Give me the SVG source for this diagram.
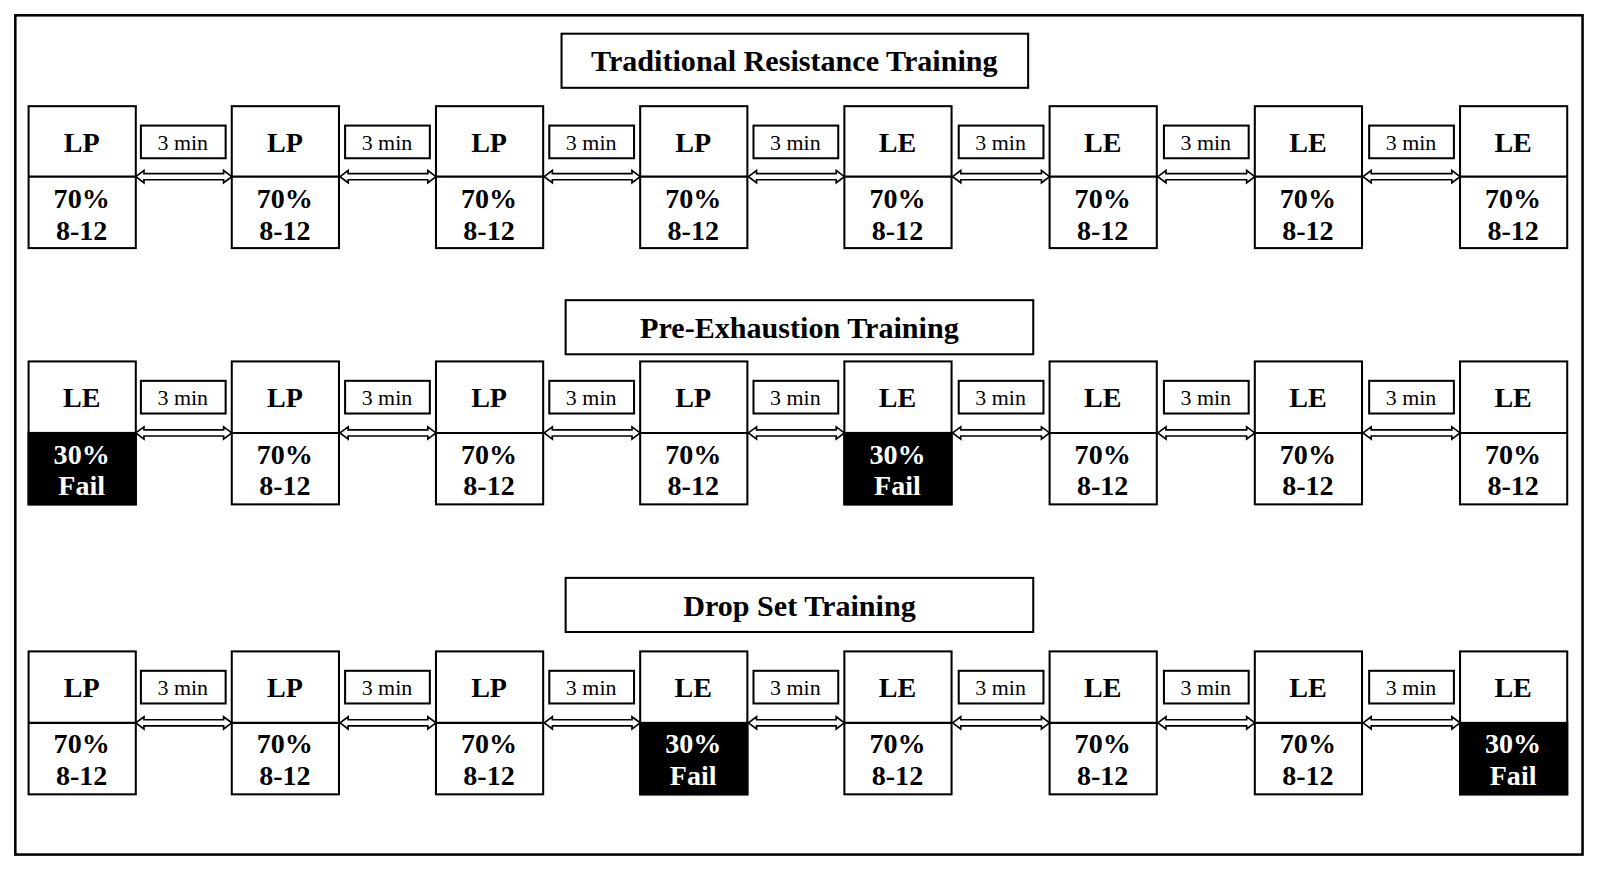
<svg xmlns="http://www.w3.org/2000/svg" width="1600" height="870" viewBox="0 0 1600 870">
<style>
.b{fill:#fff;stroke:#000;stroke-width:2}
.f{fill:#000;stroke:#000;stroke-width:2}
.t{font-family:"Liberation Serif",serif;font-weight:bold;font-size:27.5px;text-anchor:middle}
.w{fill:#fff}
.h{font-family:"Liberation Serif",serif;font-weight:bold;font-size:29.5px;text-anchor:middle}
.r{font-family:"Liberation Serif",serif;font-size:21.5px;text-anchor:middle}
.a{fill:#fff;stroke:#000;stroke-width:1.6}
</style>
<rect width="1600" height="870" fill="#fff"/>
<g transform="scale(1.021)">
<rect x="15" y="15" width="1535" height="822" fill="none" stroke="#000" stroke-width="2.5"/>
<g id="titles">
<rect class="b" x="550" y="33" width="457" height="53"/><text class="h" x="778" y="70">Traditional Resistance Training</text>
<rect class="b" x="554" y="294" width="458" height="53"/><text class="h" x="783" y="331">Pre-Exhaustion Training</text>
<rect class="b" x="554" y="566" width="458" height="53"/><text class="h" x="783" y="603">Drop Set Training</text>
</g>
<g id="connectors">
<g>
<rect class="b" x="138" y="123" width="83" height="32"/><text class="r" x="179" y="147">3 min</text>
<rect class="b" x="338" y="123" width="83" height="32"/><text class="r" x="379" y="147">3 min</text>
<rect class="b" x="538" y="123" width="83" height="32"/><text class="r" x="579" y="147">3 min</text>
<rect class="b" x="738" y="123" width="83" height="32"/><text class="r" x="779" y="147">3 min</text>
<rect class="b" x="939" y="123" width="83" height="32"/><text class="r" x="980" y="147">3 min</text>
<rect class="b" x="1140" y="123" width="83" height="32"/><text class="r" x="1181" y="147">3 min</text>
<rect class="b" x="1341" y="123" width="83" height="32"/><text class="r" x="1382" y="147">3 min</text>
</g>
<g>
<rect class="b" x="138" y="373" width="83" height="32"/><text class="r" x="179" y="397">3 min</text>
<rect class="b" x="338" y="373" width="83" height="32"/><text class="r" x="379" y="397">3 min</text>
<rect class="b" x="538" y="373" width="83" height="32"/><text class="r" x="579" y="397">3 min</text>
<rect class="b" x="738" y="373" width="83" height="32"/><text class="r" x="779" y="397">3 min</text>
<rect class="b" x="939" y="373" width="83" height="32"/><text class="r" x="980" y="397">3 min</text>
<rect class="b" x="1140" y="373" width="83" height="32"/><text class="r" x="1181" y="397">3 min</text>
<rect class="b" x="1341" y="373" width="83" height="32"/><text class="r" x="1382" y="397">3 min</text>
</g>
<g>
<rect class="b" x="138" y="657" width="83" height="32"/><text class="r" x="179" y="681">3 min</text>
<rect class="b" x="338" y="657" width="83" height="32"/><text class="r" x="379" y="681">3 min</text>
<rect class="b" x="538" y="657" width="83" height="32"/><text class="r" x="579" y="681">3 min</text>
<rect class="b" x="738" y="657" width="83" height="32"/><text class="r" x="779" y="681">3 min</text>
<rect class="b" x="939" y="657" width="83" height="32"/><text class="r" x="980" y="681">3 min</text>
<rect class="b" x="1140" y="657" width="83" height="32"/><text class="r" x="1181" y="681">3 min</text>
<rect class="b" x="1341" y="657" width="83" height="32"/><text class="r" x="1382" y="681">3 min</text>
</g>
<path class="a" d="M133 173l8-6v3h78v-3l8 6l-8 6v-3h-78v3z M333 173l8-6v3h78v-3l8 6l-8 6v-3h-78v3z M533 173l8-6v3h78v-3l8 6l-8 6v-3h-78v3z M733 173l8-6v3h78v-3l8 6l-8 6v-3h-78v3z M933 173l8-6v3h79v-3l8 6l-8 6v-3h-79v3z M1134 173l8-6v3h79v-3l8 6l-8 6v-3h-79v3z M1335 173l8-6v3h79v-3l8 6l-8 6v-3h-79v3z"/>
<path class="a" d="M133 424l8-6v3h78v-3l8 6l-8 6v-3h-78v3z M333 424l8-6v3h78v-3l8 6l-8 6v-3h-78v3z M533 424l8-6v3h78v-3l8 6l-8 6v-3h-78v3z M733 424l8-6v3h78v-3l8 6l-8 6v-3h-78v3z M933 424l8-6v3h79v-3l8 6l-8 6v-3h-79v3z M1134 424l8-6v3h79v-3l8 6l-8 6v-3h-79v3z M1335 424l8-6v3h79v-3l8 6l-8 6v-3h-79v3z"/>
<path class="a" d="M133 708l8-6v3h78v-3l8 6l-8 6v-3h-78v3z M333 708l8-6v3h78v-3l8 6l-8 6v-3h-78v3z M533 708l8-6v3h78v-3l8 6l-8 6v-3h-78v3z M733 708l8-6v3h78v-3l8 6l-8 6v-3h-78v3z M933 708l8-6v3h79v-3l8 6l-8 6v-3h-79v3z M1134 708l8-6v3h79v-3l8 6l-8 6v-3h-79v3z M1335 708l8-6v3h79v-3l8 6l-8 6v-3h-79v3z"/>
</g>
<g id="r1n1"><rect class="b" x="28" y="104" width="105" height="139"/><line x1="28" y1="173" x2="133" y2="173" stroke="#000" stroke-width="2"/><text class="t" x="80" y="149">LP</text><text class="t" x="80" y="204">70%</text><text class="t" x="80" y="235">8-12</text></g>
<g id="r1n2"><rect class="b" x="227" y="104" width="105" height="139"/><line x1="227" y1="173" x2="332" y2="173" stroke="#000" stroke-width="2"/><text class="t" x="279" y="149">LP</text><text class="t" x="279" y="204">70%</text><text class="t" x="279" y="235">8-12</text></g>
<g id="r1n3"><rect class="b" x="427" y="104" width="105" height="139"/><line x1="427" y1="173" x2="532" y2="173" stroke="#000" stroke-width="2"/><text class="t" x="479" y="149">LP</text><text class="t" x="479" y="204">70%</text><text class="t" x="479" y="235">8-12</text></g>
<g id="r1n4"><rect class="b" x="627" y="104" width="105" height="139"/><line x1="627" y1="173" x2="732" y2="173" stroke="#000" stroke-width="2"/><text class="t" x="679" y="149">LP</text><text class="t" x="679" y="204">70%</text><text class="t" x="679" y="235">8-12</text></g>
<g id="r1n5"><rect class="b" x="827" y="104" width="105" height="139"/><line x1="827" y1="173" x2="932" y2="173" stroke="#000" stroke-width="2"/><text class="t" x="879" y="149">LE</text><text class="t" x="879" y="204">70%</text><text class="t" x="879" y="235">8-12</text></g>
<g id="r1n6"><rect class="b" x="1028" y="104" width="105" height="139"/><line x1="1028" y1="173" x2="1133" y2="173" stroke="#000" stroke-width="2"/><text class="t" x="1080" y="149">LE</text><text class="t" x="1080" y="204">70%</text><text class="t" x="1080" y="235">8-12</text></g>
<g id="r1n7"><rect class="b" x="1229" y="104" width="105" height="139"/><line x1="1229" y1="173" x2="1334" y2="173" stroke="#000" stroke-width="2"/><text class="t" x="1281" y="149">LE</text><text class="t" x="1281" y="204">70%</text><text class="t" x="1281" y="235">8-12</text></g>
<g id="r1n8"><rect class="b" x="1430" y="104" width="105" height="139"/><line x1="1430" y1="173" x2="1535" y2="173" stroke="#000" stroke-width="2"/><text class="t" x="1482" y="149">LE</text><text class="t" x="1482" y="204">70%</text><text class="t" x="1482" y="235">8-12</text></g>
<g id="r2n1"><rect class="b" x="28" y="354" width="105" height="140"/><rect class="f" x="28" y="424" width="105" height="70"/><text class="t" x="80" y="399">LE</text><text class="t w" x="80" y="454">30%</text><text class="t w" x="80" y="485">Fail</text></g>
<g id="r2n2"><rect class="b" x="227" y="354" width="105" height="140"/><line x1="227" y1="424" x2="332" y2="424" stroke="#000" stroke-width="2"/><text class="t" x="279" y="399">LP</text><text class="t" x="279" y="454">70%</text><text class="t" x="279" y="485">8-12</text></g>
<g id="r2n3"><rect class="b" x="427" y="354" width="105" height="140"/><line x1="427" y1="424" x2="532" y2="424" stroke="#000" stroke-width="2"/><text class="t" x="479" y="399">LP</text><text class="t" x="479" y="454">70%</text><text class="t" x="479" y="485">8-12</text></g>
<g id="r2n4"><rect class="b" x="627" y="354" width="105" height="140"/><line x1="627" y1="424" x2="732" y2="424" stroke="#000" stroke-width="2"/><text class="t" x="679" y="399">LP</text><text class="t" x="679" y="454">70%</text><text class="t" x="679" y="485">8-12</text></g>
<g id="r2n5"><rect class="b" x="827" y="354" width="105" height="140"/><rect class="f" x="827" y="424" width="105" height="70"/><text class="t" x="879" y="399">LE</text><text class="t w" x="879" y="454">30%</text><text class="t w" x="879" y="485">Fail</text></g>
<g id="r2n6"><rect class="b" x="1028" y="354" width="105" height="140"/><line x1="1028" y1="424" x2="1133" y2="424" stroke="#000" stroke-width="2"/><text class="t" x="1080" y="399">LE</text><text class="t" x="1080" y="454">70%</text><text class="t" x="1080" y="485">8-12</text></g>
<g id="r2n7"><rect class="b" x="1229" y="354" width="105" height="140"/><line x1="1229" y1="424" x2="1334" y2="424" stroke="#000" stroke-width="2"/><text class="t" x="1281" y="399">LE</text><text class="t" x="1281" y="454">70%</text><text class="t" x="1281" y="485">8-12</text></g>
<g id="r2n8"><rect class="b" x="1430" y="354" width="105" height="140"/><line x1="1430" y1="424" x2="1535" y2="424" stroke="#000" stroke-width="2"/><text class="t" x="1482" y="399">LE</text><text class="t" x="1482" y="454">70%</text><text class="t" x="1482" y="485">8-12</text></g>
<g id="r3n1"><rect class="b" x="28" y="638" width="105" height="140"/><line x1="28" y1="708" x2="133" y2="708" stroke="#000" stroke-width="2"/><text class="t" x="80" y="683">LP</text><text class="t" x="80" y="738">70%</text><text class="t" x="80" y="769">8-12</text></g>
<g id="r3n2"><rect class="b" x="227" y="638" width="105" height="140"/><line x1="227" y1="708" x2="332" y2="708" stroke="#000" stroke-width="2"/><text class="t" x="279" y="683">LP</text><text class="t" x="279" y="738">70%</text><text class="t" x="279" y="769">8-12</text></g>
<g id="r3n3"><rect class="b" x="427" y="638" width="105" height="140"/><line x1="427" y1="708" x2="532" y2="708" stroke="#000" stroke-width="2"/><text class="t" x="479" y="683">LP</text><text class="t" x="479" y="738">70%</text><text class="t" x="479" y="769">8-12</text></g>
<g id="r3n4"><rect class="b" x="627" y="638" width="105" height="140"/><rect class="f" x="627" y="708" width="105" height="70"/><text class="t" x="679" y="683">LE</text><text class="t w" x="679" y="738">30%</text><text class="t w" x="679" y="769">Fail</text></g>
<g id="r3n5"><rect class="b" x="827" y="638" width="105" height="140"/><line x1="827" y1="708" x2="932" y2="708" stroke="#000" stroke-width="2"/><text class="t" x="879" y="683">LE</text><text class="t" x="879" y="738">70%</text><text class="t" x="879" y="769">8-12</text></g>
<g id="r3n6"><rect class="b" x="1028" y="638" width="105" height="140"/><line x1="1028" y1="708" x2="1133" y2="708" stroke="#000" stroke-width="2"/><text class="t" x="1080" y="683">LE</text><text class="t" x="1080" y="738">70%</text><text class="t" x="1080" y="769">8-12</text></g>
<g id="r3n7"><rect class="b" x="1229" y="638" width="105" height="140"/><line x1="1229" y1="708" x2="1334" y2="708" stroke="#000" stroke-width="2"/><text class="t" x="1281" y="683">LE</text><text class="t" x="1281" y="738">70%</text><text class="t" x="1281" y="769">8-12</text></g>
<g id="r3n8"><rect class="b" x="1430" y="638" width="105" height="140"/><rect class="f" x="1430" y="708" width="105" height="70"/><text class="t" x="1482" y="683">LE</text><text class="t w" x="1482" y="738">30%</text><text class="t w" x="1482" y="769">Fail</text></g>
</g>
</svg>
